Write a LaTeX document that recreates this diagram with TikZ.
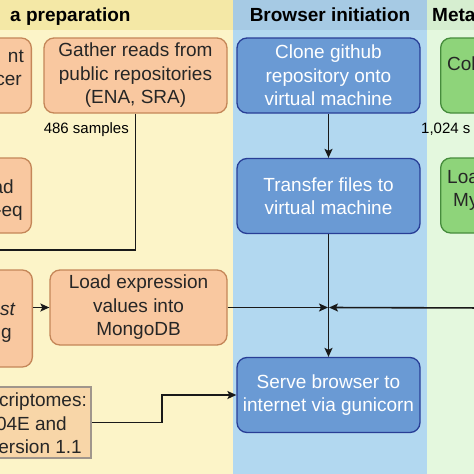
\documentclass[tikz,border=0pt]{standalone}
\usepackage{fontspec}
\setmainfont{Liberation Sans}
\usetikzlibrary{arrows.meta,positioning,calc}
\definecolor{prepbg}{RGB}{252,244,200}
\definecolor{prephead}{RGB}{244,232,166}
\definecolor{webbg}{RGB}{178,216,240}
\definecolor{webhead}{RGB}{166,202,228}
\definecolor{metabg}{RGB}{228,248,222}
\definecolor{metahead}{RGB}{214,238,208}
\definecolor{stepfill}{RGB}{249,200,160}
\definecolor{stepdraw}{RGB}{196,134,88}
\definecolor{webfill}{RGB}{106,154,212}
\definecolor{webdraw}{RGB}{40,62,150}
\definecolor{metafill}{RGB}{142,212,122}
\definecolor{metadraw}{RGB}{70,140,60}
\definecolor{srcfill}{RGB}{248,214,168}
\definecolor{srcdraw}{RGB}{160,150,140}

\begin{document}
\begin{tikzpicture}[x=1pt,y=-1pt,
  font=\fontsize{19}{23.5}\selectfont,
  head/.style={font=\fontsize{19}{23.5}\selectfont\bfseries,inner sep=0pt},
  count/.style={font=\fontsize{15}{18}\selectfont,inner sep=0pt},
  frag/.style={inner sep=0pt,text=black!85},
  prep/.style={draw=stepdraw,line width=1.3pt,fill=stepfill,rounded corners=10pt,
    minimum width=183pt,minimum height=75pt,align=center,inner sep=0pt,text=black!85},
  source/.style={draw=srcdraw,line width=2pt,fill=srcfill,
    minimum width=183pt,minimum height=71pt,inner sep=0pt},
  browse/.style={draw=webdraw,line width=1.3pt,fill=webfill,rounded corners=10pt,
    minimum width=183pt,minimum height=75pt,align=center,inner sep=0pt,text=white},
  meta/.style={draw=metadraw,line width=1.3pt,fill=metafill,rounded corners=10pt,
    minimum width=183pt,minimum height=75pt,inner sep=0pt},
  link/.style={draw=black!90,line width=1.6pt},
  flow/.style={link,-{Stealth[length=9pt,width=8pt,inset=2pt]}}]

\useasboundingbox (0,0) rectangle (474,474);
\clip (0,0) rectangle (474,474);

% lanes
\fill[prepbg] (0,0) rectangle (233,474);
\fill[webbg] (233,0) rectangle (427,474);
\fill[metabg] (427,0) rectangle (474,474);
\fill[prephead] (0,0) rectangle (233,30);
\fill[webhead] (233,0) rectangle (427,30);
\fill[metahead] (427,0) rectangle (474,30);
\node[head,anchor=base west] (preptitle) at (10,21) {a preparation};
\node[head,anchor=base] (webtitle) at (330,21) {Browser initiation};
\node[head,anchor=base west] (metatitle) at (432,21) {Meta};

% data preparation
\node[prep,anchor=east] (firstbox) at (32,75.5) {};
\node[frag,anchor=base east] (firsta) at (24,62) {nt};
\node[frag,anchor=base east] (firstb) at (22,85) {cer};
\node[prep] (gather) at (135.5,75.5) {Gather reads from\\public repositories\\(ENA, SRA)};
\node[count,anchor=base east] (samples) at (129,133) {486 samples};
\node[prep,anchor=east] (rnaseq) at (32,195.5) {};
\node[frag,anchor=base east] (rnaseqa) at (14,193) {ad};
\node[frag,anchor=base east] (rnaseqb) at (23,216) {-eq};
\node[prep,anchor=east,minimum height=97pt] (quant) at (33,318.5) {};
\node[frag,anchor=base east,font=\fontsize{19}{23.5}\selectfont\itshape] (quanta) at (15,315) {st};
\node[frag,anchor=base east] (quantb) at (12,338) {g};
\node[prep,minimum width=177pt] (load) at (138.5,307.5) {Load expression\\values into\\MongoDB};
\node[source,anchor=east] (trans) at (92,422.5) {};
\node[frag,anchor=base east] (transa) at (87,406) {criptomes:};
\node[frag,anchor=base east] (transb) at (67,430) {04E and};
\node[frag,anchor=base east] (transc) at (82,453) {ersion 1.1};

% browser initiation
\node[browse] (clone) at (328.5,75.5) {Clone github\\repository onto\\virtual machine};
\node[browse] (transfer) at (328.5,196) {Transfer files to\\virtual machine};
\node[browse] (serve) at (328.5,395) {Serve browser to\\internet via gunicorn};

% metadata
\node[meta,anchor=west] (collect) at (440,75.5) {};
\node[frag,anchor=base west] (collecta) at (447,70) {Col};
\node[count,anchor=base west] (meta) at (421,133) {1,024 s};
\node[meta,anchor=west] (mysql) at (440,195.5) {};
\node[frag,anchor=base west] (mysqla) at (447,183) {Loa};
\node[frag,anchor=base west] (mysqlb) at (453,206) {My};

\coordinate (offleft) at (-10,250);
\coordinate (offright) at (490,308);
\coordinate (merge) at (transfer.south |- load.east);

\draw[link] (gather.south) |- (offleft);
\draw[flow] (load.west -| quant.east) -- (load.west);
\draw[flow,shorten >=0.5pt] (load.east) -- (merge);
\draw[flow,shorten >=0.5pt] (offright) -- (merge);
\draw[flow] (clone) -- (transfer);
\draw[flow] (transfer) -- (serve);
\draw[flow] (trans.east) -- ++(70,0) |- (serve.west);

\end{tikzpicture}
\end{document}
